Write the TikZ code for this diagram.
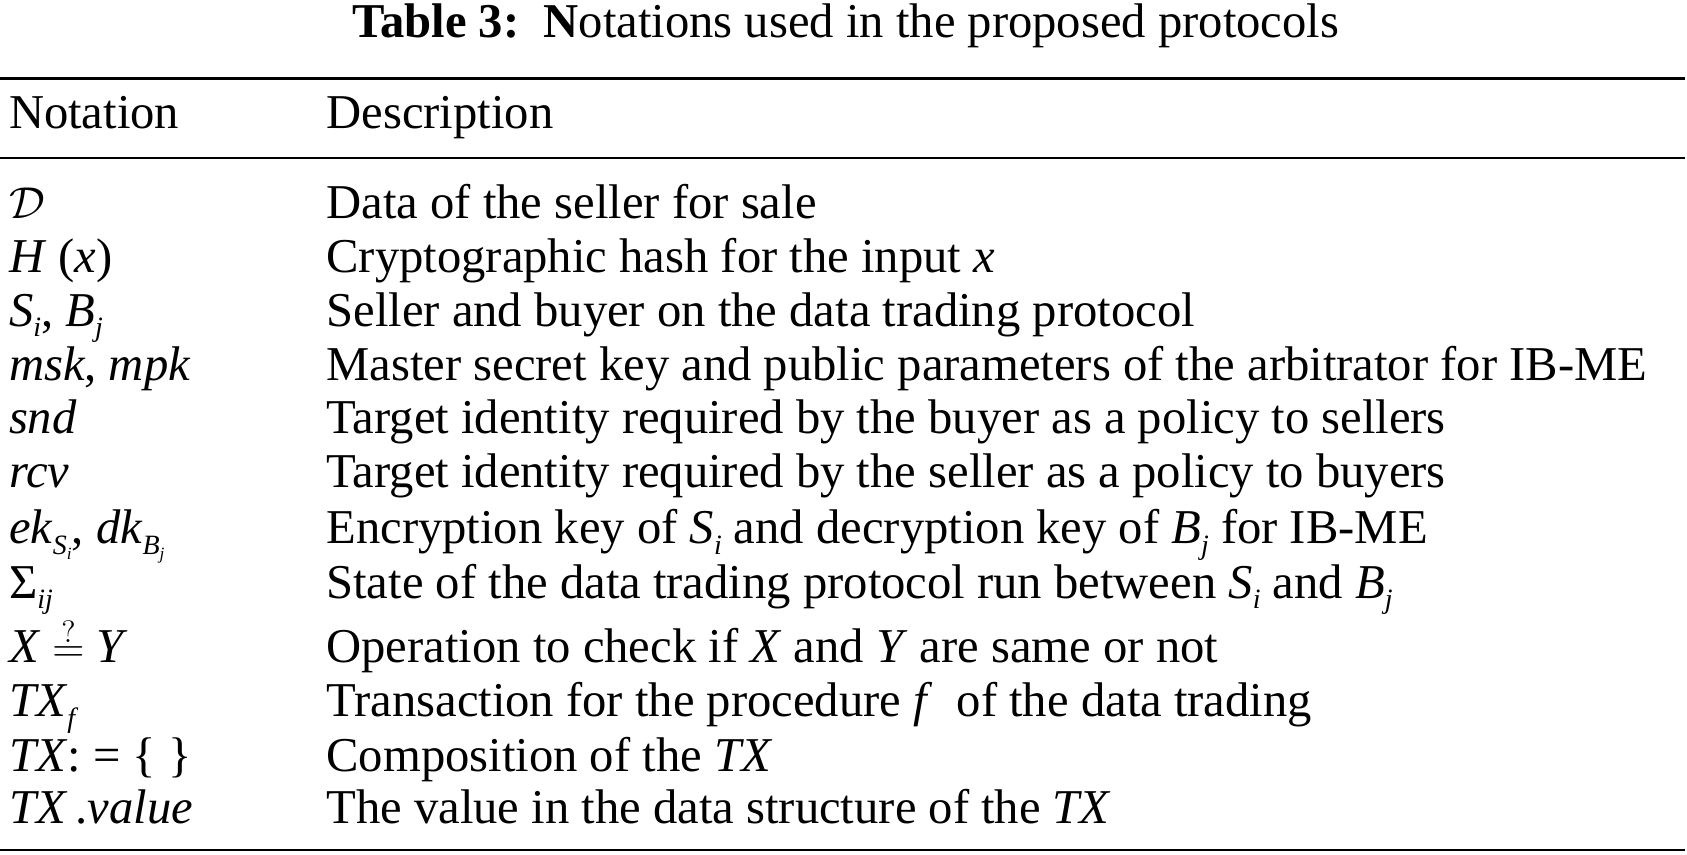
\documentclass[tikz,border=0pt]{standalone}
\usepackage{fontspec}
\setmainfont{Liberation Serif}
\newcommand{\lsub}[1]{\raisebox{-0.22em}{\fontsize{13}{13}\selectfont\textit{#1}}}
\begin{document}
\begin{tikzpicture}[x=0.5pt,y=-0.5pt,
  cell/.style={anchor=base west,inner sep=0pt,font=\fontsize{22.6}{27}\selectfont},
  rulel/.style={line width=1.1pt}]
\useasboundingbox (0,0) rectangle (1568,794);
\node[anchor=base,inner sep=0pt,font=\fontsize{22.6}{27}\selectfont] (title) at (786,35) {\textbf{Table 3:}\ \ \textbf{N}otations used in the proposed protocols};
\coordinate (r1a) at (0,73); \coordinate (r1b) at (1566,73);
\coordinate (r2a) at (0,147); \coordinate (r2b) at (1566,147);
\coordinate (r3a) at (0,790); \coordinate (r3b) at (1566,790);
\draw[rulel] (r1a) -- (r1b);
\draw[rulel] (r2a) -- (r2b);
\draw[rulel] (r3a) -- (r3b);
\node[cell] (h1) at (8,119) {Notation};
\node[cell] (h2) at (303,119) {Description};
\node[cell] (n1) at (8,203) {$\mathcal{D}$};
\node[cell] (d1) at (303,203) {Data of the seller for sale};
\node[cell] (n2) at (8,253) {\textit{H} (\textit{x})};
\node[cell] (d2) at (303,253) {Cryptographic hash for the input \textit{x}};
\node[cell] (n3) at (8,303) {\textit{S}\lsub{i}, \textit{B}\lsub{j}};
\node[cell] (d3) at (303,303) {Seller and buyer on the data trading protocol};
\node[cell] (n4) at (8,354) {\textit{msk}, \textit{mpk}};
\node[cell] (d4) at (303,354) {Master secret key and public parameters of the arbitrator for IB-ME};
\node[cell] (n5) at (8,403) {\textit{snd}};
\node[cell] (d5) at (303,403) {Target identity required by the buyer as a policy to sellers};
\node[cell] (n6) at (8,453) {\textit{rcv}};
\node[cell] (d6) at (303,453) {Target identity required by the seller as a policy to buyers};
\node[cell] (n7) at (8,505) {\textit{ek}\lsub{S\raisebox{-0.2em}{\fontsize{8}{8}\selectfont i}}, \textit{dk}\lsub{B\raisebox{-0.2em}{\fontsize{8}{8}\selectfont j}}};
\node[cell] (d7) at (303,505) {Encryption key of \textit{S}\lsub{i} and decryption key of \textit{B}\lsub{j} for IB-ME};
\node[cell] (n8) at (8,556) {Σ\lsub{ij}};
\node[cell] (d8) at (303,556) {State of the data trading protocol run between \textit{S}\lsub{i} and \textit{B}\lsub{j}};
\node[cell] (n9) at (8,616) {\textit{X} $\stackrel{?}{=}$ \textit{Y}};
\node[cell] (d9) at (303,616) {Operation to check if \textit{X} and \textit{Y} are same or not};
\node[cell] (n10) at (8,666) {\textit{TX}\lsub{f}};
\node[cell] (d10) at (303,666) {Transaction for the procedure \textit{f} \ of the data trading};
\node[cell] (n11) at (8,717) {\textit{TX}: = \{ \}};
\node[cell] (d11) at (303,717) {Composition of the \textit{TX}};
\node[cell] (n12) at (8,765) {\textit{TX}\,.\textit{value}};
\node[cell] (d12) at (303,765) {The value in the data structure of the \textit{TX}};
\end{tikzpicture}
\end{document}
